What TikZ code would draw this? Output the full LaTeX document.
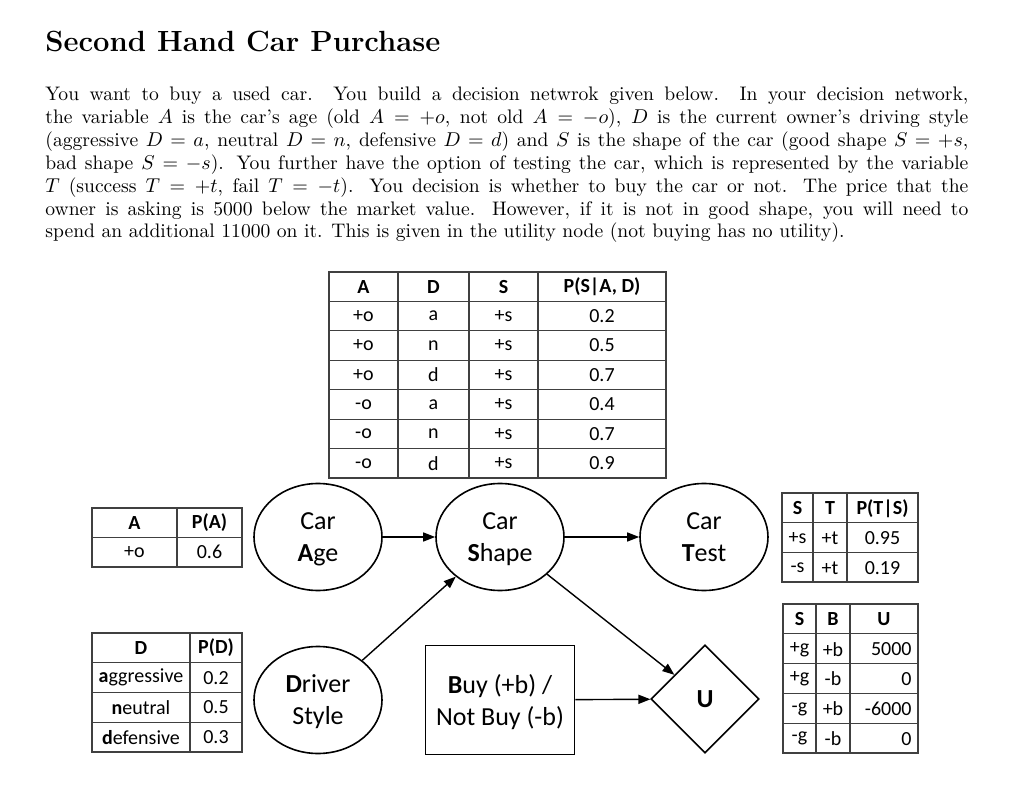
\documentclass[tikz,border=0pt]{standalone}
\usepackage{fontspec}
\usepackage{amsmath}
\usepackage{tikz}
\usetikzlibrary{shapes.geometric, arrows.meta, positioning}
\newfontfamily\calib{Carlito}
\tikzset{
  chance/.style={ellipse, draw, line width=0.8pt, minimum width=64pt,
    minimum height=53.5pt, inner sep=0pt, align=center, text depth=0pt,
    font=\calib\fontsize{13}{16}\selectfont},
  decision/.style={rectangle, draw, line width=0.8pt, minimum width=74.5pt,
    minimum height=54.5pt, inner sep=0pt, align=center, text depth=0pt,
    font=\calib\fontsize{13}{16}\selectfont},
  utility/.style={diamond, draw, line width=0.8pt, minimum width=54pt,
    minimum height=54pt, inner sep=0pt, font=\calib\bfseries\fontsize{13}{16}\selectfont},
  arrow/.style={-{Triangle[length=6pt, width=4.5pt]}, line width=0.7pt},
  grid/.style={line width=0.6pt, color=black!75},
  cell/.style={inner sep=0pt, font=\calib\fontsize{10}{12}\selectfont},
  hcell/.style={cell, font=\calib\bfseries\fontsize{10}{12}\selectfont}
}

\begin{document}
\begin{tikzpicture}[x=0.5pt, y=-0.5pt]
\useasboundingbox (0,0) rectangle (1024,792);

%--- TITLE AND TEXT ---
\node[anchor=base west, inner sep=0pt, font=\fontsize{14.6}{17}\selectfont\bfseries] (title) at (45,52) {Second Hand Car Purchase};
\node[anchor=north west, inner sep=0pt, text width=461.5pt, align=justify,
  font=\fontsize{9.8}{11.5}\selectfont\nonfrenchspacing] (txt) at (45,86) {%
You want to buy a used car.  You build a decision netwrok given below.  In your decision network,\linebreak
the variable $A$ is the car's age (old $A=+o$, not old $A=-o$), $D$ is the current owner's driving style\linebreak
(aggressive $D=a$, neutral $D=n$, defensive $D=d$) and $S$ is the shape of the car (good shape $S=+s$,\linebreak
bad shape $S=-s$).  You further have the option of testing the car, which is represented by the variable\linebreak
$T$ (success $T=+t$, fail $T=-t$).  You decision is whether to buy the car or not.  The price that the\linebreak
owner is asking is 5000 below the market value.  However, if it is not in good shape, you will need to\linebreak
spend an additional 11000 on it.  This is given in the utility node (not buying has no utility).};

%--- NETWORK ---
\node[chance] (age) at (318,537) {Car\\\textbf{A}ge};
\node[chance] (shape) at (500,537) {Car\\\textbf{S}hape};
\node[chance] (test) at (704,537) {Car\\\textbf{T}est};
\node[chance] (driver) at (318,700) {\textbf{D}river\\Style};
\node[decision] (buy) at (500,700) {\textbf{B}uy (+b) /\\Not Buy (-b)};
\node[utility] (util) at (705,699) {U};

\draw[arrow] (age) -- (shape);
\draw[arrow] (shape) -- (test);
\draw[arrow] (driver) -- (shape);
\draw[arrow] (shape) -- (util);
\draw[arrow] (buy) -- (util);

%--- P(S|A,D) ---
\draw[grid] (329,272) rectangle (666,478);
\foreach \x in {398,469,538} { \draw[grid] (\x,272) -- (\x,478); }
\foreach \i in {1,...,6} { \draw[grid] (329,272+\i*29.43) -- (666,272+\i*29.43); }
\foreach \t/\x [count=\c] in {A/363.5, D/433.5, S/503.5, {P(S|A, D)}/602} {
  \node[hcell] (sh-\c) at (\x,286.7) {\t};
}
\foreach \a/\d/\s/\p [count=\r] in {+o/a/+s/0.2, +o/n/+s/0.5, +o/d/+s/0.7,
    -o/a/+s/0.4, -o/n/+s/0.7, -o/d/+s/0.9} {
  \node[cell] (sa-\r) at (363.5,286.7+\r*29.43) {\a};
  \node[cell] (sd-\r) at (433.5,286.7+\r*29.43) {\d};
  \node[cell] (ss-\r) at (503.5,286.7+\r*29.43) {\s};
  \node[cell] (sp-\r) at (602,286.7+\r*29.43) {\p};
}

%--- P(A) ---
\draw[grid] (92,508) rectangle (242,567);
\draw[grid] (177,508) -- (177,567);
\draw[grid] (92,537.5) -- (242,537.5);
\node[hcell] (ah-1) at (134.5,522.7) {A};
\node[hcell] (ah-2) at (209.5,522.7) {P(A)};
\node[cell] (aa-1) at (134.5,552.2) {+o};
\node[cell] (ap-1) at (209.5,552.2) {0.6};

%--- P(D) ---
\draw[grid] (92,633) rectangle (242,752);
\draw[grid] (190,633) -- (190,752);
\foreach \i in {1,2,3} { \draw[grid] (92,633+\i*29.75) -- (242,633+\i*29.75); }
\node[hcell] (dh-1) at (141,647.9) {D};
\node[hcell] (dh-2) at (216,647.9) {P(D)};
\foreach \d/\p [count=\r] in {{\textbf{a}ggressive}/0.2, {\textbf{n}eutral}/0.5, {\textbf{d}efensive}/0.3} {
  \node[cell] (dd-\r) at (141,647.9+\r*29.75) {\d};
  \node[cell] (dp-\r) at (216,647.9+\r*29.75) {\p};
}

%--- P(T|S) ---
\draw[grid] (782,493) rectangle (918,582);
\foreach \x in {813,847} { \draw[grid] (\x,493) -- (\x,582); }
\foreach \i in {1,2} { \draw[grid] (782,493+\i*29.67) -- (918,493+\i*29.67); }
\foreach \t/\x [count=\c] in {S/797.5, T/830, {P(T|S)}/882.5} {
  \node[hcell] (th-\c) at (\x,508.5) {\t};
}
\foreach \s/\t/\p [count=\r] in {+s/+t/0.95, -s/+t/0.19} {
  \node[cell] (ts-\r) at (797.5,508.5+\r*29.67) {\s};
  \node[cell] (tt-\r) at (830,508.5+\r*29.67) {\t};
  \node[cell] (tp-\r) at (882.5,508.5+\r*29.67) {\p};
}

%--- U(S,B) ---
\draw[grid] (783,604) rectangle (918,753);
\foreach \x in {816,850} { \draw[grid] (\x,604) -- (\x,753); }
\foreach \i in {1,...,4} { \draw[grid] (783,604+\i*29.8) -- (918,604+\i*29.8); }
\foreach \t/\x [count=\c] in {S/799.5, B/833, U/884} {
  \node[hcell] (uh-\c) at (\x,619.5) {\t};
}
\foreach \s/\b/\u [count=\r] in {+g/+b/5000, +g/-b/0, -g/+b/-6000, -g/-b/0} {
  \node[cell] (us-\r) at (799.5,619.5+\r*29.8) {\s};
  \node[cell] (ub-\r) at (833,619.5+\r*29.8) {\b};
  \node[cell, anchor=east] (uu-\r) at (912,619.5+\r*29.8) {\u};
}
\end{tikzpicture}
\end{document}
